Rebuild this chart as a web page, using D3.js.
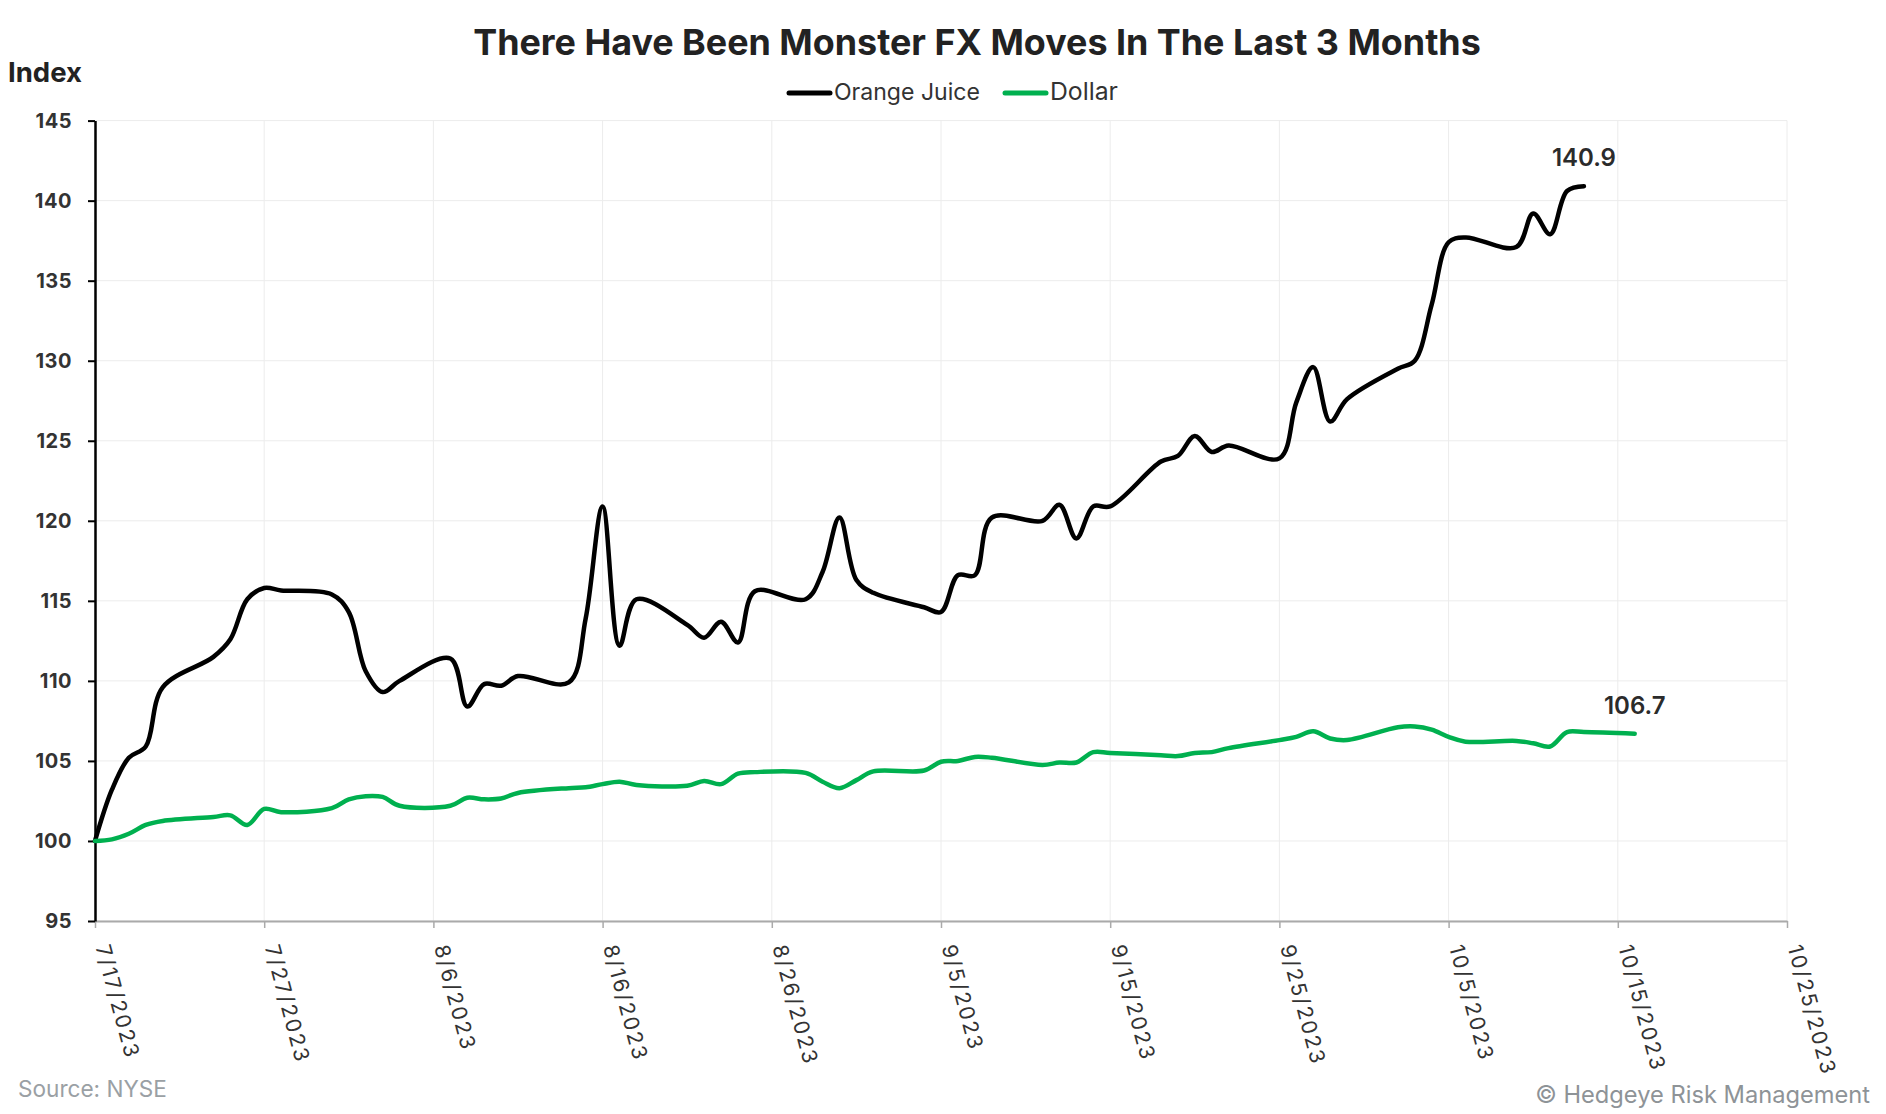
<!DOCTYPE html>
<html>
<head>
<meta charset="utf-8">
<script src="https://cdn.jsdelivr.net/npm/d3@7"></script>
<style>
  body { margin: 0; background: #fff; }
  text { font-family: Inter, "Open Sans", sans-serif; }
</style>
</head>
<body>
<div id="canvas"></div>
<script>
// trading days shown on the chart
const dates = [
  "7/17/2023", "7/18/2023", "7/19/2023", "7/20/2023", "7/21/2023",
  "7/24/2023", "7/25/2023", "7/26/2023", "7/27/2023", "7/28/2023",
  "7/31/2023", "8/1/2023", "8/2/2023", "8/3/2023", "8/4/2023",
  "8/7/2023", "8/8/2023", "8/9/2023", "8/10/2023", "8/11/2023",
  "8/14/2023", "8/15/2023", "8/16/2023", "8/17/2023", "8/18/2023",
  "8/21/2023", "8/22/2023", "8/23/2023", "8/24/2023", "8/25/2023",
  "8/28/2023", "8/29/2023", "8/30/2023", "8/31/2023", "9/1/2023",
  "9/4/2023", "9/5/2023", "9/6/2023", "9/7/2023", "9/8/2023",
  "9/11/2023", "9/12/2023", "9/13/2023", "9/14/2023", "9/15/2023",
  "9/18/2023", "9/19/2023", "9/20/2023", "9/21/2023", "9/22/2023",
  "9/25/2023", "9/26/2023", "9/27/2023", "9/28/2023", "9/29/2023",
  "10/2/2023", "10/3/2023", "10/4/2023", "10/5/2023", "10/6/2023",
  "10/9/2023", "10/10/2023", "10/11/2023", "10/12/2023", "10/13/2023",
  "10/16/2023"
]

const orangeJuice = [
  100.0, 103.2, 105.2, 105.9, 109.6,
  111.5, 112.6, 115.1, 115.8, 115.65,
  115.4, 114.3, 110.6, 109.3, 110.0,
  111.4, 108.4, 109.8, 109.7, 110.3,
  109.9, 113.9, 120.9, 112.2, 115.1,
  113.5, 112.7, 113.7, 112.4, 115.6,
  115.1, 116.8, 120.2, 116.3, 115.5,
  114.6, 114.3, 116.6, 116.6, 120.2,
  120.0, 121.0, 118.9, 120.9, 120.9,
  123.7, 124.05, 125.3, 124.3, 124.7,
  123.9, 127.4, 129.6, 126.2, 127.6,
  129.5, 130.0, 133.5, 137.4, 137.7,
  137.1, 139.2, 137.9, 140.6, 140.9
]

const dollar = [
  100.0, 100.1, 100.45, 101.0, 101.25,
  101.5, 101.6, 101.0, 102.0, 101.8,
  102.05, 102.6, 102.8, 102.75, 102.2,
  102.2, 102.7, 102.6, 102.65, 103.0,
  103.3, 103.35, 103.55, 103.7, 103.5,
  103.45, 103.75, 103.55, 104.2, 104.3,
  104.25, 103.7, 103.3, 103.8, 104.35,
  104.4, 104.95, 105.0, 105.25, 105.2,
  104.75, 104.9, 104.9, 105.55, 105.5,
  105.35, 105.3, 105.5, 105.55, 105.8,
  106.3, 106.5, 106.85, 106.4, 106.3,
  107.1, 107.15, 106.95, 106.5, 106.2,
  106.25, 106.1, 105.9, 106.8, 106.8,
  106.7
]

const xTickLabels = [
  "7/17/2023", "7/27/2023", "8/6/2023", "8/16/2023", "8/26/2023", "9/5/2023",
  "9/15/2023", "9/25/2023", "10/5/2023", "10/15/2023", "10/25/2023"
]
const yTicks = [95, 100, 105, 110, 115, 120, 125, 130, 135, 140, 145]

const seriesNames = ["Orange Juice", "Dollar"]
const seriesColors = ["#000000", "#00b04f"]

const width = 1886
const height = 1114
const margin = { top: 120.6, left: 95, bottom: 193, right: 99 }

const parse = d3.timeParse("%m/%d/%Y")
const fmt = d3.timeFormat("%-m/%-d/%Y")

const series = [orangeJuice, dollar].map((vals, i) => ({
  name: seriesNames[i],
  color: seriesColors[i],
  values: vals.map((v, j) => ({ date: parse(dates[j]), value: v }))
}))

const svg = d3.select("#canvas").append("svg")
  .attr("width", width)
  .attr("height", height)

const x = d3.scaleTime()
  .domain([parse(xTickLabels[0]), parse(xTickLabels[xTickLabels.length - 1])])
  .range([margin.left, width - margin.right])

const y = d3.scaleLinear()
  .domain([95, 145])
  .range([height - margin.bottom, margin.top])

// shrink/grow a text's font so it spans a measured width
function fit(sel, target) {
  const fs = parseFloat(sel.attr("font-size"))
  const w = sel.node().getComputedTextLength()
  sel.attr("font-size", fs * target / w)
}

// grid
svg.append("g").selectAll("line").data(yTicks).join("line")
  .attr("x1", margin.left).attr("x2", width - margin.right)
  .attr("y1", d => y(d)).attr("y2", d => y(d))
  .attr("stroke", "#ececec").attr("stroke-width", 1)

svg.append("g").selectAll("line").data(xTickLabels).join("line")
  .attr("x1", d => x(parse(d))).attr("x2", d => x(parse(d)))
  .attr("y1", margin.top).attr("y2", height - margin.bottom)
  .attr("stroke", "#ececec").attr("stroke-width", 1)

// x axis
const xAxis = svg.append("g")
  .attr("transform", `translate(0, ${height - margin.bottom})`)
  .call(d3.axisBottom(x).tickValues(xTickLabels.map(parse)).tickFormat(fmt).tickSize(7).tickSizeOuter(0))
xAxis.select(".domain").attr("stroke", "#aaaaaa").attr("stroke-width", 2)
xAxis.selectAll(".tick line").attr("stroke", "#aaaaaa").attr("stroke-width", 1.5)
xAxis.selectAll(".tick text")
  .attr("x", 0).attr("y", 0).attr("dy", 0)
  .attr("transform", "translate(0, 26) rotate(75)")
  .attr("text-anchor", "start")
  .attr("font-family", "Inter")
  .attr("font-size", 21)
  .attr("letter-spacing", 2)
  .attr("fill", "#333")

// y axis
const yAxis = svg.append("g")
  .attr("transform", `translate(${margin.left}, 0)`)
  .call(d3.axisLeft(y).tickValues(yTicks).tickSize(7).tickSizeOuter(0).tickPadding(16))
yAxis.select(".domain").attr("stroke", "#000").attr("stroke-width", 2.5)
yAxis.selectAll(".tick line").attr("stroke", "#000").attr("stroke-width", 2)
yAxis.selectAll(".tick text")
  .attr("font-family", "Inter")
  .attr("font-size", 20)
  .attr("font-weight", 700)
  .attr("letter-spacing", 0.5)
  .attr("fill", "#333")

// lines
const line = d3.line()
  .x(d => x(d.date))
  .y(d => y(d.value))
  .curve(d3.curveCatmullRom.alpha(0.5))

svg.append("g").selectAll("path").data(series).join("path")
  .attr("d", d => line(d.values))
  .attr("fill", "none")
  .attr("stroke", d => d.color)
  .attr("stroke-width", 4.5)
  .attr("stroke-linejoin", "round")
  .attr("stroke-linecap", "round")

// last value labels
svg.append("g").selectAll("text").data(series).join("text")
  .attr("x", d => x(d.values[d.values.length - 1].date))
  .attr("y", d => y(d.values[d.values.length - 1].value) - 20)
  .attr("text-anchor", "middle")
  .attr("font-size", 24)
  .attr("font-weight", 600)
  .attr("fill", "#2b2b2b")
  .text(d => d.values[d.values.length - 1].value.toFixed(1))

// title
const title = svg.append("text")
  .attr("x", 977).attr("y", 55)
  .attr("text-anchor", "middle")
  .attr("font-size", 34)
  .attr("font-weight", 700)
  .attr("fill", "#222")
  .text("There Have Been Monster FX Moves In The Last 3 Months")
fit(title, 1008)

const ylab = svg.append("text")
  .attr("x", 8).attr("y", 82)
  .attr("font-size", 22)
  .attr("font-weight", 700)
  .attr("fill", "#222")
  .text("Index")
fit(ylab, 74)

// legend
const legendPos = [{ x: 789, w: 146 }, { x: 1005, w: 68 }]
series.forEach((s, i) => {
  const lx = legendPos[i].x
  svg.append("line")
    .attr("x1", lx).attr("x2", lx + 41)
    .attr("y1", 93).attr("y2", 93)
    .attr("stroke", s.color).attr("stroke-width", 5)
    .attr("stroke-linecap", "round")
  const t = svg.append("text")
    .attr("x", lx + 45).attr("y", 100)
    .attr("font-size", 20)
    .attr("fill", "#333")
    .text(s.name)
  fit(t, legendPos[i].w)
})

// footer
const src = svg.append("text")
  .attr("x", 18).attr("y", 1097)
  .attr("font-size", 20)
  .attr("fill", "#9aa0a4")
  .text("Source: NYSE")
fit(src, 149)

const copy = svg.append("text")
  .attr("x", 1870).attr("y", 1103)
  .attr("text-anchor", "end")
  .attr("font-size", 21)
  .attr("fill", "#8e9397")
  .text("© Hedgeye Risk Management")
fit(copy, 335)
</script>
</body>
</html>
